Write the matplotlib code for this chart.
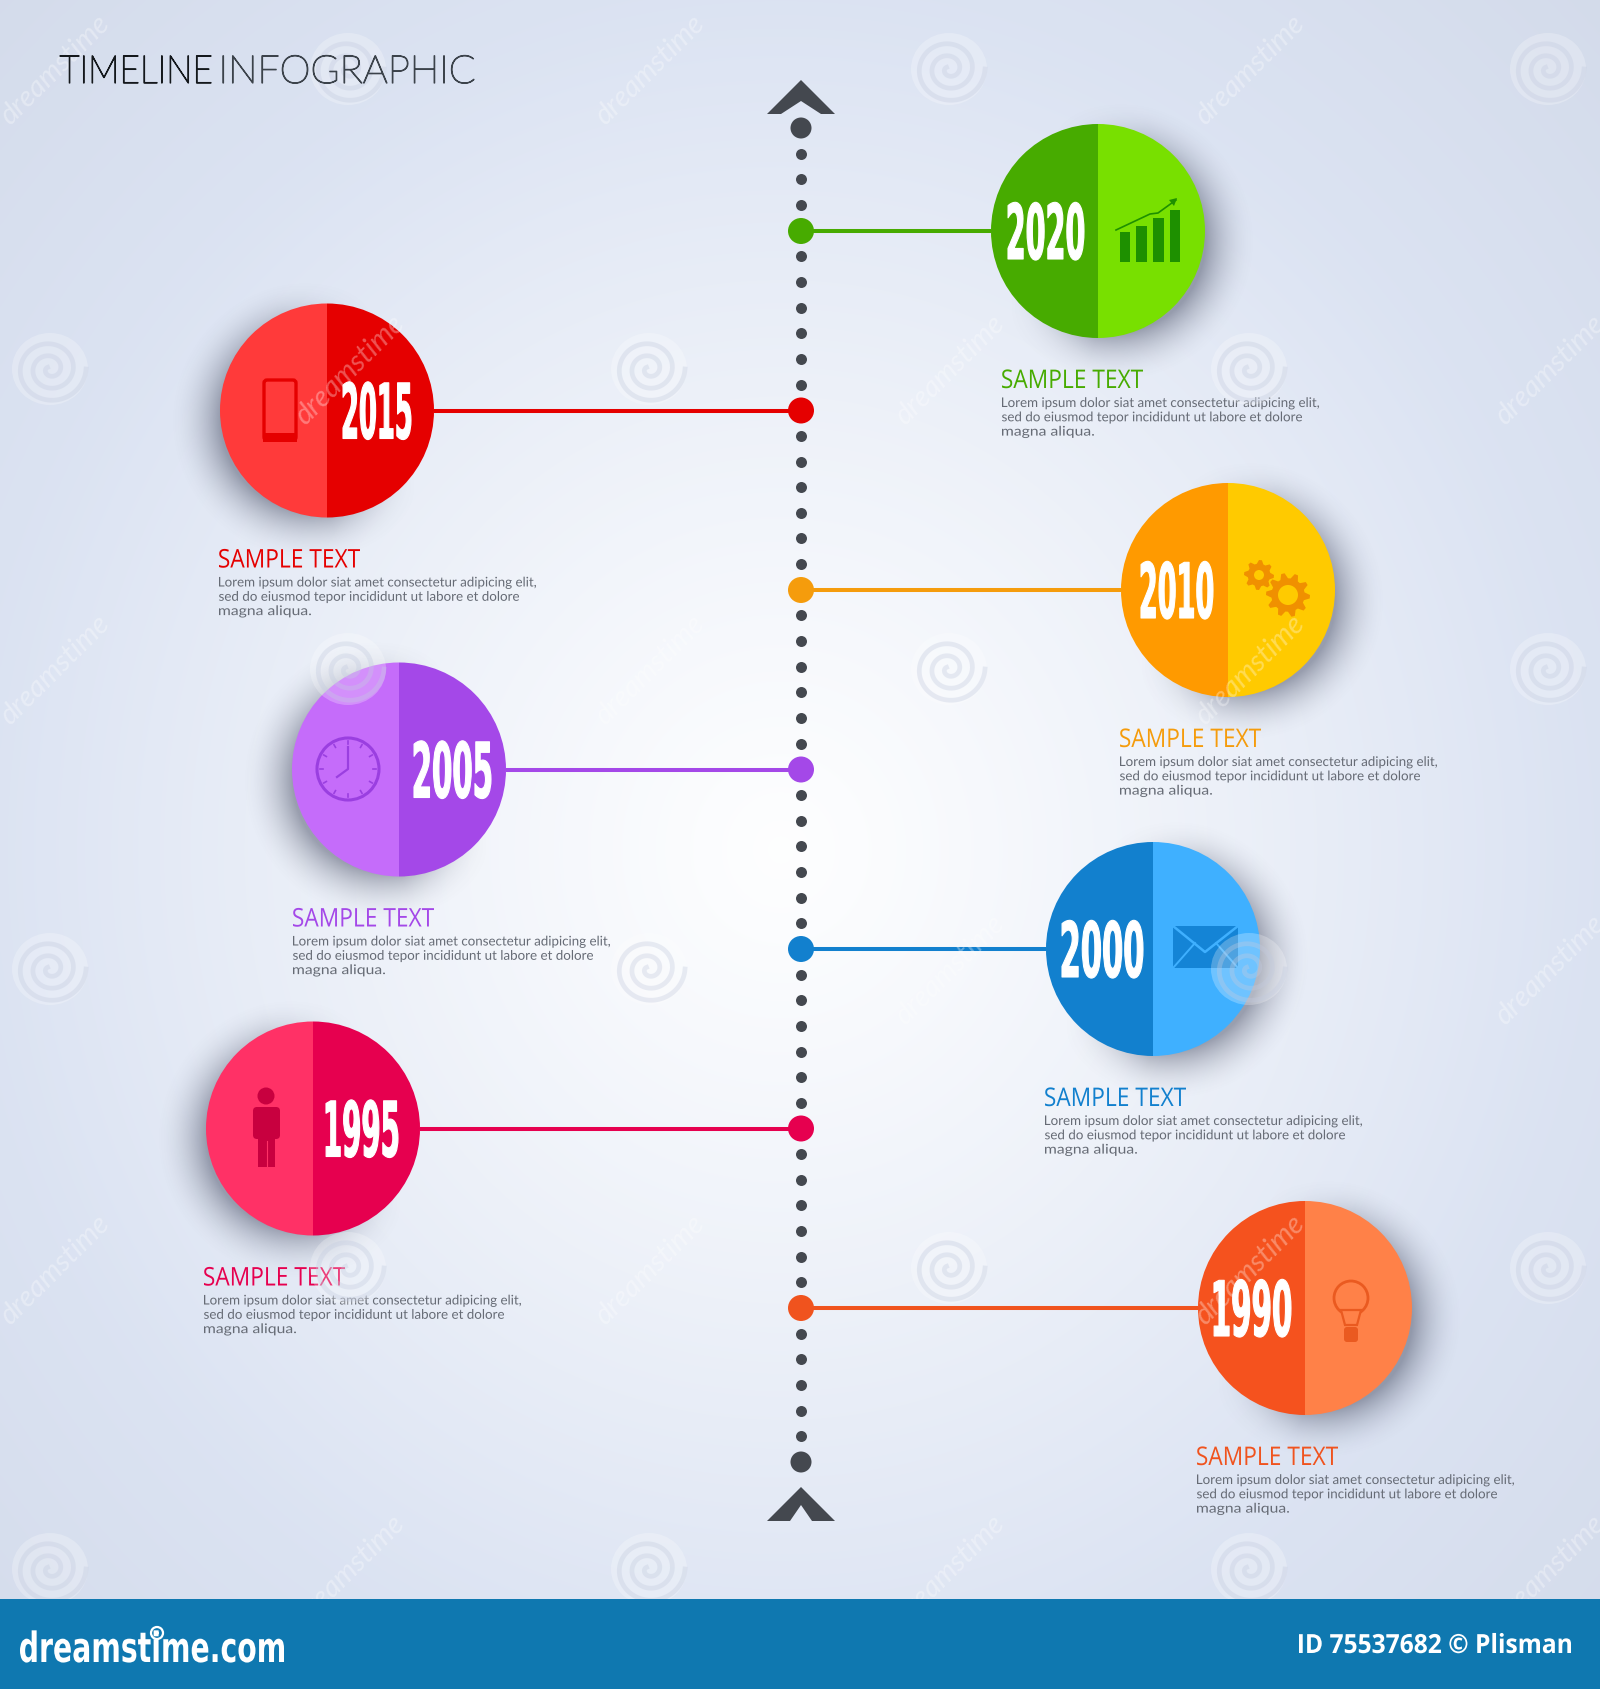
import numpy as np
import matplotlib
matplotlib.use("Agg")
import matplotlib.pyplot as plt
from matplotlib import patheffects as pe
from matplotlib.patches import Circle, Wedge, Polygon, Rectangle, FancyBboxPatch, Ellipse
from matplotlib.textpath import TextPath
from matplotlib.font_manager import FontProperties
from matplotlib.transforms import Affine2D

# ---------- data ----------
years = [2020, 2015, 2010, 2005, 2000, 1995, 1990]
title_dark = "TIMELINE"
title_light = "INFOGRAPHIC"
heading = "SAMPLE TEXT"
body_lines = ["Lorem ipsum dolor siat amet consectetur adipicing elit,",
              "sed do eiusmod tepor incididunt ut labore et dolore",
              "magna aliqua."]
chart_icon_bars = [30, 36, 44, 52]
footer_left = "dreamstime.com"
footer_right = "ID 75537682 \u00a9 Plisman"

# ---------- layout / style ----------
W, H, BAND = 1600, 1690, 1600
SPINE_X = 801
R = 107
centers_x = [1098, 327, 1228, 399, 1153, 313, 1305]
text_x = [1002, 219, 1120, 293, 1045, 204, 1197]
year_spans = [(1008, 1084), (343, 411), (1141, 1213), (414, 491), (1062, 1143), (326, 398), (1214, 1291)]
left_cols = ["#47ab00", "#ff3a3a", "#ff9a00", "#c56cfa", "#1280ce", "#ff3166", "#f5521e"]
right_cols = ["#78e000", "#e50000", "#ffca00", "#a448e8", "#3fb0ff", "#e6004f", "#ff8148"]
accents = ["#47ab00", "#e50000", "#f59c0c", "#a448e8", "#1280ce", "#e6004f", "#f0531e"]
DARK = "#44484f"


def year_y(year):
    return 1309 + (1990 - year) * (1309 - 232) / 30


class Squeeze(pe.AbstractPathEffect):
    """Scale a text's glyphs horizontally about the start of the string."""
    def __init__(self, sx, bold=0):
        super().__init__()
        self.sx, self.bold = sx, bold

    def draw_path(self, renderer, gc, tpath, affine, rgbFace=None):
        aff = Affine2D().scale(self.sx, 1) + affine
        gc0 = renderer.new_gc()
        gc0.copy_properties(gc)
        if self.bold:
            gc0.set_linewidth(self.bold)
            gc0.set_foreground(rgbFace)
        renderer.draw_path(gc0, tpath, aff, rgbFace)
        gc0.restore()


fig = plt.figure(figsize=(W / 100, H / 100), dpi=100)
ax = fig.add_axes([0, 0, 1, 1])


def fit_text(x0, x1, y, s, size, family, weight="normal", color="k", bold=0, z=6, style="normal"):
    fp = FontProperties(family=family, weight=weight, style=style)
    bb = TextPath((0, 0), s, size=size * 100 / 72, prop=fp).get_extents()
    sx = (x1 - x0) / bb.width
    return ax.text(x0 - bb.x0 * sx, y, s, fontsize=size, family=family, weight=weight, style=style, color=color,
                   ha="left", va="baseline", zorder=z,
                   path_effects=[Squeeze(sx, bold)])


# background
yy, xx = np.mgrid[0:BAND:2, 0:W:2]
t = np.sqrt(((xx - 780) / 800.0) ** 2 + ((yy - 850) / 850.0) ** 2)
t = np.clip(t, 0, 1.45) ** 1.15
white = np.array([0.995, 0.997, 1.0])
edge = np.array([0.860, 0.890, 0.950])
bg = white + (edge - white) * np.clip(t, 0, 1.0)[..., None]
bg = bg - np.clip(t - 1, 0, 1)[..., None] * 0.06
ax.imshow(bg, extent=(0, W, BAND, 0), zorder=0, interpolation="bilinear", aspect="auto")

# shadows: soft, thrown away from the spine
for cx, y0 in zip(centers_x, [year_y(v) for v in years]):
    sgn = 1 if cx > SPINE_X else -1
    pad = 110
    gy, gx = np.mgrid[-R - pad:R + pad:1.0, -R - pad:R + pad:1.0]
    d = np.hypot(gx - sgn * 16, gy - 10)
    side = np.clip(0.75 + (sgn * gx + 0.25 * gy) / (0.9 * R), 0, 1)
    a = 0.50 * side * np.clip(1 - (d - (R - 16)) / 52.0, 0, 1) ** 2
    rgba = np.zeros(a.shape + (4,))
    rgba[..., :3] = (0.29, 0.31, 0.40)
    rgba[..., 3] = a
    ax.imshow(rgba, extent=(cx - R - pad, cx + R + pad, y0 + R + pad, y0 - R - pad), zorder=1, aspect="auto")

# spine dots
n_dots = 53
dot_ys = 129 + np.arange(n_dots) * (1463 - 129) / (n_dots - 1)
ax.scatter([SPINE_X] * n_dots, dot_ys, s=(11 * 0.72) ** 2, c=DARK, linewidths=0, zorder=3)
for y in (129, 1463):
    ax.add_patch(Circle((SPINE_X, y), 10.5, fc=DARK, ec="none", zorder=4))
ax.add_patch(Polygon([(767, 115), (801, 81), (835, 115), (821, 115), (801, 102), (781, 115)], fc=DARK, ec="none", zorder=4))
ax.add_patch(Polygon([(767, 1522), (801, 1488), (835, 1522), (812, 1522), (801, 1506), (790, 1522)], fc=DARK, ec="none", zorder=4))

# items
for i, yr in enumerate(years):
    cx, cy = centers_x[i], year_y(yr)
    sgn = 1 if cx > SPINE_X else -1
    ax.plot([SPINE_X, cx - sgn * R], [cy, cy], color=accents[i], lw=2.9, zorder=3, solid_capstyle="butt")
    ax.add_patch(Circle((SPINE_X, cy), 13, fc=accents[i], ec="none", zorder=4))
    ax.add_patch(Wedge((cx, cy), R, 90, 270, fc=left_cols[i], ec="none", zorder=4))
    ax.add_patch(Wedge((cx, cy), R, -90, 90, fc=right_cols[i], ec="none", zorder=4))
    x0, x1 = year_spans[i]
    fit_text(x0, x1, cy + 28, str(yr), 55, "Liberation Sans Narrow", "bold", "white", bold=0.8)
    fit_text(text_x[i], text_x[i] + 141, cy + 157, heading, 18.5, "Open Sans", "normal", accents[i])
    w = [317, 300, 92]
    for j, line in enumerate(body_lines):
        fit_text(text_x[i], text_x[i] + w[j], cy + 176 + j * 14.3, line, 9.6, "Lato", "normal", "#666b75")

# icon: bars with trend (2020)
cx, cy = centers_x[0], year_y(2020)
ic = "#1e9000"
for k, h in enumerate(chart_icon_bars):
    ax.bar(1125 + k * 16.7, h, width=10.5, bottom=263 - h, color=ic, zorder=5)
ax.plot([1116, 1150, 1158, 1176], [231, 215, 214, 201], color=ic, lw=1.2, zorder=5)
ax.add_patch(Polygon([(1177, 199), (1169, 201), (1174, 207)], fc=ic, ec="none", zorder=5))

# icon: phone (2015)
ic = "#e50000"
ax.add_patch(FancyBboxPatch((264, 381), 32, 60, boxstyle="round,pad=0,rounding_size=3", fc="none", ec=ic, lw=2.4, zorder=5))
ax.add_patch(Rectangle((263, 434), 34, 9, fc=ic, ec="none", zorder=5))


# icon: gears (2010)
def gear(cxg, cyg, r, teeth, hole):
    ang = np.linspace(0, 2 * np.pi, teeth * 4, endpoint=False)
    rad = np.where(np.arange(teeth * 4) % 4 < 2, r, r * 0.76)
    ax.add_patch(Polygon(np.c_[cxg + rad * np.cos(ang), cyg + rad * np.sin(ang)], fc="#f09000", ec="none", zorder=5))
    ax.add_patch(Circle((cxg, cyg), hole, fc=right_cols[2], ec="none", zorder=5))


gear(1259, 576, 15, 8, 5)
gear(1288, 596, 22, 10, 10)

# icon: clock (2005)
ic = "#9a3fe0"
ax.add_patch(Circle((348, 770), 31, fc="none", ec=ic, lw=2.2, zorder=5))
for a in np.arange(0, 360, 30):
    c, s = np.cos(np.radians(a)), np.sin(np.radians(a))
    ax.plot([348 + 25 * c, 348 + 28 * c], [770 + 25 * s, 770 + 28 * s], color=ic, lw=1.2, zorder=5)
ax.plot([348, 348, 337], [748, 770, 778], color=ic, lw=1.6, zorder=5)

# icon: envelope (2000)
ic = "#1484d6"
ax.add_patch(Rectangle((1173, 927), 65, 42, fc=ic, ec="none", zorder=5))
ax.plot([1173, 1205, 1238], [927, 953, 927], color=right_cols[4], lw=1.8, zorder=5)
ax.plot([1173, 1195], [969, 944], color=right_cols[4], lw=1.4, zorder=5)
ax.plot([1238, 1216], [969, 944], color=right_cols[4], lw=1.4, zorder=5)

# icon: person (1995)
ic = "#c8003f"
ax.add_patch(Circle((266, 1097), 8.5, fc=ic, ec="none", zorder=5))
ax.add_patch(FancyBboxPatch((253, 1108), 27, 32, boxstyle="round,pad=0,rounding_size=4", fc=ic, ec="none", zorder=5))
ax.add_patch(Rectangle((258, 1130), 17, 38, fc=ic, ec="none", zorder=5))
ax.plot([266.5, 266.5], [1142, 1168], color=left_cols[5], lw=0.8, zorder=5)

# icon: bulb (1990)
ic = "#ea5a20"
ax.add_patch(Circle((1351, 1299), 17, fc="none", ec=ic, lw=2, zorder=5))
ax.add_patch(Polygon([(1341, 1311), (1345, 1326), (1357, 1326), (1361, 1311)], fc=right_cols[6], ec=ic, lw=1.6, zorder=5))
ax.add_patch(FancyBboxPatch((1344, 1328), 14, 15, boxstyle="round,pad=0,rounding_size=3", fc=ic, ec="none", zorder=5))

# title
fit_text(60, 211, 84, title_dark, 28, "Lato", "light", "#14181c", bold=0.9, z=8)
fit_text(223, 474, 84, title_light, 28, "Lato", "light", "#3c434b", bold=0.9, z=8)

# watermarks
th = np.linspace(0, 5.2 * np.pi, 240)
spiral_r = 33 * (1 - th / th.max()) + 3
for sx_, sy_ in [(348, 70), (949, 70), (1548, 70), (50, 370), (649, 370), (1249, 370),
                 (348, 670), (949, 670), (1548, 670), (50, 970), (649, 970), (1249, 970),
                 (348, 1269), (949, 1269), (1548, 1269), (50, 1570), (649, 1570), (1249, 1570)]:
    ax.add_patch(Ellipse((sx_, sy_), 76, 72, fc="white", ec="none", alpha=0.25, zorder=7))
    ax.plot(sx_ + spiral_r * np.cos(th), sy_ + spiral_r * 0.95 * np.sin(th), color="#c3cbdf", lw=3.4, alpha=0.35, zorder=7)
for tx, ty in [(55, 70), (650, 70), (1250, 70), (350, 370), (950, 370), (1550, 370), (55, 670), (650, 670),
               (1250, 670), (950, 970), (1550, 970), (55, 1270), (650, 1270), (1250, 1270), (350, 1570),
               (950, 1570), (1550, 1570)]:
    ax.text(tx, ty, "dreamstime", fontsize=21, family="Lato", style="italic", color="white", alpha=0.33,
            rotation=45, ha="center", va="center", zorder=7)

# footer band
ax.add_patch(Rectangle((0, BAND), W, H - BAND, fc="#0f78b0", ec="none", zorder=10))
fit_text(20, 284, 1663, footer_left, 30, "DejaVu Sans", "bold", "white", z=11)
ax.add_patch(Circle((157, 1634), 6, fc="none", ec="white", lw=1.6, zorder=11))
ax.add_patch(Circle((157, 1634), 2, fc="white", ec="none", zorder=11))
fit_text(1299, 1571, 1654, footer_right, 19, "Open Sans", "bold", "white", z=11)

ax.set_xlim(0, W)
ax.set_ylim(H, 0)
ax.axis("off")
fig.savefig("out.png", dpi=100)
